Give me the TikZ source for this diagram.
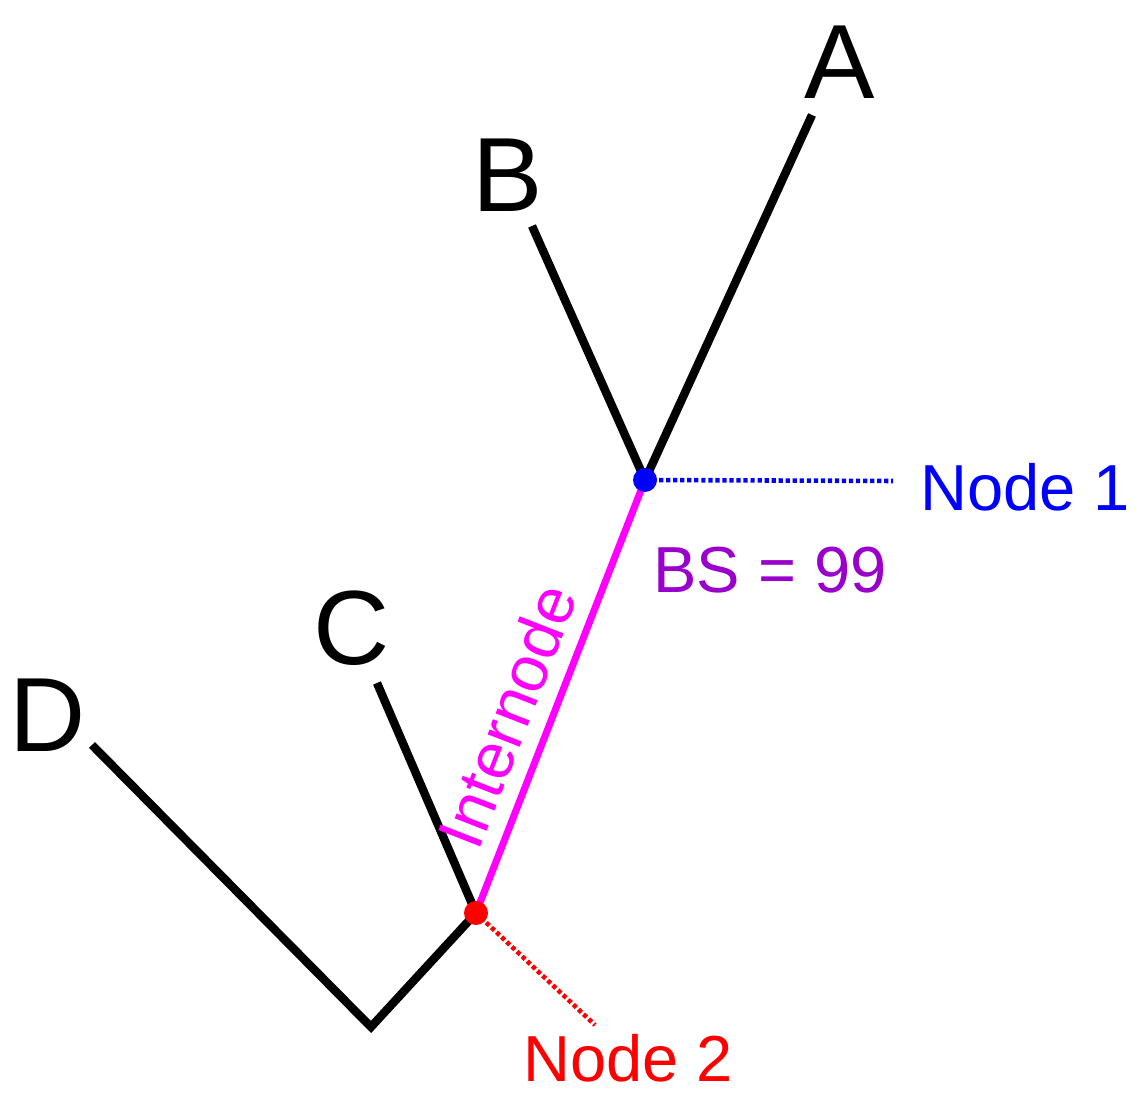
\documentclass[tikz,border=0pt]{standalone}
\usepackage{fontspec}
\setmainfont{Liberation Sans}
\usepackage{xcolor}
\definecolor{bspurple}{RGB}{153,0,204}
\definecolor{intmag}{RGB}{255,0,255}
\definecolor{nblue}{RGB}{0,0,255}
\definecolor{nred}{RGB}{255,0,0}
\begin{document}
\begin{tikzpicture}[x=0.01cm, y=-0.01cm,
    branch/.style={line width=2.4pt, black},
    big/.style={font=\fontsize{30}{31}\selectfont},
    small/.style={font=\fontsize{18.5}{19}\selectfont},
    dots/.style={line width=1.3pt, dash pattern=on 1.2pt off 0.8pt}]
    \useasboundingbox (0,0) rectangle (1142,1104);
    % Inner nodes
    \coordinate (n1) at (645,480);
    \coordinate (n2) at (476,913);
    \coordinate (root) at (371,1027);
    \coordinate (tA) at (812,115);
    \coordinate (tB) at (532,226);
    \coordinate (tC) at (377,683);
    \coordinate (tD) at (92,745);
    \coordinate (d1) at (893,481);
    \coordinate (d2) at (595,1025);
    % Branches
    \draw[branch] (tA) -- (n1) -- (tB);
    \draw[branch] (tC) -- (n2) -- (root) -- (tD);
    \draw[line width=2pt, intmag] (n1) -- (n2)
        node[pos=0.58, sloped, above=1pt, small, text=intmag] {Internode};
    \draw[nblue, dots] (n1) -- (d1);
    \draw[nred, dots] (n2) -- (d2);
    \fill[nblue] (n1) circle [radius=12];
    \fill[nred] (n2) circle [radius=12];
    % Labels
    \node[big] (lA) at (840,62) {A};
    \node[big] (lB) at (508,175) {B};
    \node[big] (lC) at (352,628) {C};
    \node[big] (lD) at (48,715) {D};
    \node[small, nblue] (l1) at (1025,487) {Node 1};
    \node[small, bspurple] (bs) at (770,570) {BS = 99};
    \node[small, nred] (l2) at (628,1058) {Node 2};
\end{tikzpicture}
\end{document}
